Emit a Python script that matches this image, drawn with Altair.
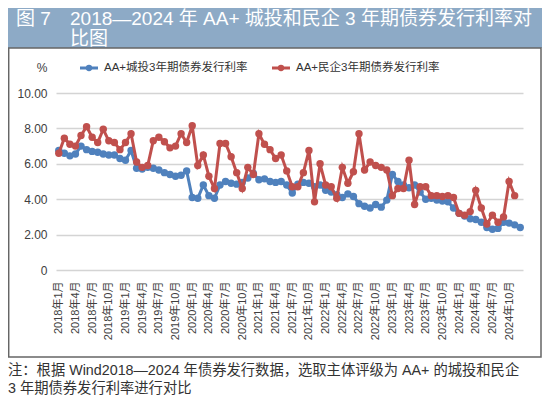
import altair as alt
import pandas as pd

FONT = "Liberation Sans, Noto Sans CJK SC"

months = [f"{y}年{m}月" for y in range(2018, 2025) for m in range(1, 13)]
tick_labels = months[::3]

series_names = ["AA+城投3年期债券发行利率", "AA+民企3年期债券发行利率"]
series_colors = ["#4F81BD", "#C0504D"]

# AA+ 城投, monthly, 2018-01 .. 2024-12
chengtou = [
    6.75, 6.6, 6.45, 6.55, 7.0, 6.8, 6.7, 6.65, 6.55, 6.5, 6.5, 6.3,
    6.2, 6.75, 5.75, 5.7, 5.8, 5.75, 5.65, 5.5, 5.4, 5.3, 5.35, 5.6,
    4.1, 4.05, 4.8, 4.2, 4.05, 4.8, 5.0, 4.9, 4.85, 4.95, 5.2, 5.45,
    5.1, 5.15, 5.0, 4.95, 5.0, 4.8, 4.35, 4.85, 4.95, 4.9, 4.7, 4.8,
    4.5, 4.4, 4.25, 4.1, 4.3, 4.15, 3.75, 3.6, 3.5, 3.7, 3.55, 3.95,
    5.4, 5.0, 4.8, 4.65, 4.8, 4.4, 4.0, 4.05, 3.95, 3.9, 3.85, 3.5,
    3.2, 3.05, 2.9, 2.85, 2.7, 2.4, 2.3, 2.35, 2.7, 2.65, 2.55, 2.4,
]

# AA+ 民企, monthly, 2018-01 .. 2024-11
minqi = [
    6.6, 7.45, 7.1, 7.0, 7.6, 8.1, 7.5, 7.2, 7.95, 7.3, 7.2, 6.8,
    7.2, 7.7, 6.1, 5.8, 5.9, 7.3, 7.5, 7.25, 6.9, 7.0, 7.7, 7.2,
    8.15, 5.9, 6.5, 5.3, 4.6, 7.15, 7.15, 6.4, 5.5, 4.6, 5.8, 5.4,
    7.7, 7.1, 6.8, 6.3, 6.5, 5.6, 4.7, 4.7, 5.5, 6.75, 3.85, 6.0,
    4.8, 4.7, 4.05, 5.8, 4.9, 5.55, 7.7, 5.65, 6.1, 5.9, 5.8, 5.65,
    4.2, 4.6, 4.6, 6.2, 3.7, 4.7, 4.7, 4.2, 4.2, 4.15, 4.2, 4.1,
    3.2, 3.1, 3.3, 4.5, 3.5, 2.6, 3.1, 2.7, 3.0, 5.0, 4.2,
]

y_ticks = [0, 2, 4, 6, 8, 10]

title_no = "图 7"
title_line1 = "2018—2024 年 AA+ 城投和民企 3 年期债券发行利率对"
title_line2 = "比图"
note_line1 = "注：根据 Wind2018—2024 年债券发行数据，选取主体评级为 AA+ 的城投和民企"
note_line2 = "3 年期债券发行利率进行对比"

df = pd.concat([
    pd.DataFrame({"month": months[:len(chengtou)], "value": chengtou, "series": series_names[0]}),
    pd.DataFrame({"month": months[:len(minqi)], "value": minqi, "series": series_names[1]}),
])
one = pd.DataFrame({"a": [0]})

x = alt.X("month:N", sort=months, scale=alt.Scale(type="point", padding=0.5),
          axis=alt.Axis(values=tick_labels, labelAngle=270, ticks=False, domain=False,
                        grid=False, labelPadding=11, labelFontSize=11, labelColor="#404040",
                        labelFont=FONT, labelOverlap=False, title=None))
y = alt.Y("value:Q", scale=alt.Scale(domain=[0, 10]),
          axis=alt.Axis(values=y_ticks,
                        labelExpr="datum.value == 0 ? '0' : format(datum.value, '.2f')",
                        gridColor="#D4D4D4", gridWidth=1.5, domain=False, ticks=False,
                        labelPadding=9, labelFontSize=12, labelColor="#404040",
                        labelFont=FONT, title=None))
color = alt.Color("series:N", scale=alt.Scale(domain=series_names, range=series_colors), legend=None)


def series_layer(name):
    return alt.Chart(df).transform_filter(alt.datum.series == name).mark_line(
        strokeWidth=3, point=alt.OverlayMarkDef(filled=True, size=55, opacity=1)
    ).encode(x=x, y=y, color=color)


def text(s, px, py, size, col="#333333", align="left"):
    return alt.Chart(one).mark_text(align=align, baseline="middle", fontSize=size,
                                    color=col, font=FONT).encode(
        x=alt.value(px), y=alt.value(py), text=alt.value(s))


title_bar = alt.Chart(one).mark_rect(color="#8DAAC6").encode(
    x=alt.value(-48), x2=alt.value(486), y=alt.value(-85), y2=alt.value(-45))
box = alt.Chart(one).mark_rect(fillOpacity=0, stroke="#666666", strokeWidth=1.5).encode(
    x=alt.value(-47.3), x2=alt.value(485), y=alt.value(-45), y2=alt.value(264))

legend_layers = []
for i, (name, col) in enumerate(zip(series_names, series_colors)):
    x0 = 24 + i * 192
    legend_layers.append(alt.Chart(one).mark_rule(color=col, strokeWidth=3).encode(
        x=alt.value(x0), x2=alt.value(x0 + 18), y=alt.value(-25)))
    legend_layers.append(alt.Chart(one).mark_point(filled=True, size=40, color=col, opacity=1).encode(
        x=alt.value(x0 + 9), y=alt.value(-25)))
    legend_layers.append(text(name, x0 + 24, -25, 11.5))

chart = alt.layer(
    title_bar, box,
    series_layer(series_names[0]), series_layer(series_names[1]),
    text(title_no, -40, -74, 19, "white"),
    text(title_line1, 14, -74, 19, "white"),
    text(title_line2, 14, -54, 19, "white"),
    text("%", -14, -25, 12, "#404040", "center"),
    *legend_layers,
    text(note_line1, -48, 278, 14.3),
    text(note_line2, -48, 296, 14.3),
).properties(
    width=467, height=177,
    padding={"left": 48, "top": 85, "right": 19, "bottom": 130},
    autosize=alt.AutoSizeParams(type="none"),
).configure_view(stroke=None)

chart.save("out.html", embed_options={"renderer": "svg", "actions": False})
